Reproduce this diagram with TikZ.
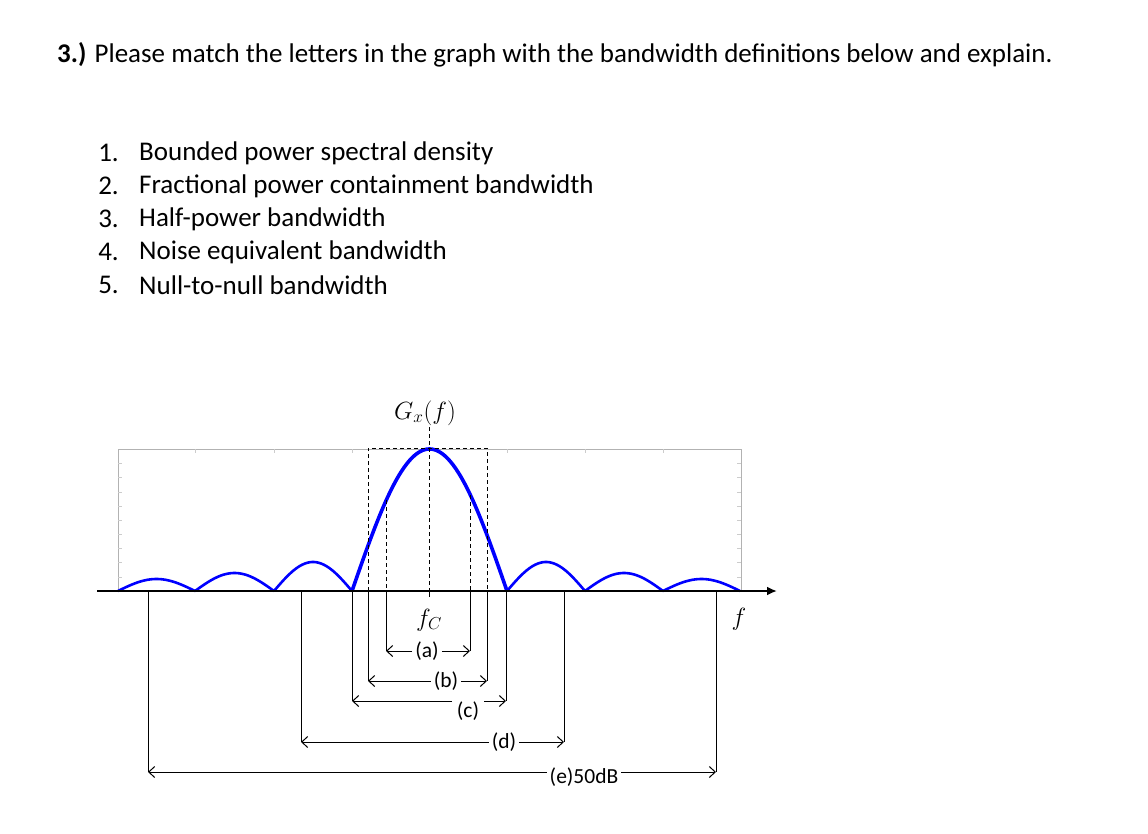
\documentclass[tikz,border=0pt]{standalone}
\usepackage{fontspec}
\setmainfont{Carlito}
\usetikzlibrary{arrows.meta}
\begin{document}
\begin{tikzpicture}[x=1pt,y=-1pt,
  lobe/.style={blue,line width=3.6pt,line join=round},
  dim/.style={black,line width=1pt},
  rarrow/.style={dim,-{Straight Barb[length=6pt,width=11pt]}},
  dsh/.style={black,line width=0.9pt,dash pattern=on 4pt off 3pt},
  lbl/.style={font=\fontsize{21.5}{24}\selectfont,inner sep=3pt},
  txt/.style={font=\fontsize{27}{32}\selectfont,anchor=west,inner sep=0pt}]
\useasboundingbox (0,0) rectangle (1148,834);
\node[txt] (title) at (57,55) {\textbf{3.)} Please match the letters in the graph with the bandwidth definitions below and explain.};
\node[txt,anchor=east] (n1) at (119,153) {1.}; \node[txt] (t1) at (139,153) {Bounded power spectral density};
\node[txt,anchor=east] (n2) at (119,186) {2.}; \node[txt] (t2) at (139,186) {Fractional power containment bandwidth};
\node[txt,anchor=east] (n3) at (119,219) {3.}; \node[txt] (t3) at (139,219) {Half-power bandwidth};
\node[txt,anchor=east] (n4) at (119,252) {4.}; \node[txt] (t4) at (139,252) {Noise equivalent bandwidth};
\node[txt,anchor=east] (n5) at (119,285) {5.}; \node[txt] (t5) at (139,285) {Null-to-null bandwidth};
% frame
\draw[gray!60,line width=0.8pt] (118,591) -- (118,449) -- (741,449) -- (741,591);
\foreach \y in {463,477,492,506,520,534,548,562,577} {
  \draw[gray!40] (118,\y) -- (122,\y); \draw[gray!40] (741,\y) -- (737,\y);}
\foreach \x in {195,274,352,507,585,663} \draw[gray!40] (\x,449) -- (\x,453);
% curve
\draw[lobe] plot[domain=352:507,samples=80] (\x,{591-142*sin((\x-352)/155*180)});
\foreach \a/\b/\h in {274/352/29,195/274/18,118/195/12,507/585/29,585/663/18,663/740/12}
  \draw[blue,line width=2.6pt] plot[domain=\a:\b,samples=40] (\x,{591-\h*sin((\x-\a)/(\b-\a)*180)});
% axis
\coordinate (ax0) at (97,591); \coordinate (ax1) at (777,591);
\draw[line width=2.2pt,-{Latex[length=10pt,width=9pt]}] (ax0) -- (ax1);
\node[font=\fontsize{26}{28}\selectfont] (g) at (425,413) {$G_x(f)$};
\node[font=\fontsize{26}{28}\selectfont] (fc) at (429,620) {$f_C$};
\node[font=\fontsize{26}{28}\selectfont] (ff) at (739,619) {$f$};
% dashed
\draw[dsh] (429,427) -- (429,591);
\draw[dsh] (368,591) -- (368,448) -- (487,448) -- (487,591);
\draw[dsh] (386,500) -- (386,591);
\draw[dsh] (470,495) -- (470,591);
\draw[dim] (429,591) -- (429,597);
% dimension verticals
\draw[dim] (386,591) -- (386,651); \draw[dim] (470,591) -- (470,651);
\draw[dim] (368,591) -- (368,681); \draw[dim] (487,591) -- (487,681);
\draw[dim] (352,591) -- (352,701); \draw[dim] (506,591) -- (506,701);
\draw[dim] (301,591) -- (301,742); \draw[dim] (564,591) -- (564,742);
\draw[dim] (148,591) -- (148,772); \draw[dim] (716,591) -- (716,772);
% labels and arrows
\node[lbl] (la) at (427,651) {(a)};
\draw[rarrow] (la.west) -- (386,651); \draw[rarrow] (la.east) -- (470,651);
\node[lbl] (lb) at (446,681) {(b)};
\draw[rarrow] (lb.west) -- (368,681); \draw[rarrow] (lb.east) -- (487,681);
\node[lbl] (lc) at (468,711) {(c)};
\coordinate (c0) at (352,701); \coordinate (c1) at (452,701);
\coordinate (c2) at (484,701); \coordinate (c3) at (506,701);
\draw[rarrow] (c1) -- (c0); \draw[rarrow] (c2) -- (c3);
\node[lbl] (ld) at (504,742) {(d)};
\draw[rarrow] (ld.west) -- (301,742); \draw[rarrow] (ld.east) -- (564,742);
\node[lbl] (le) at (584,777) {(e)50dB};
\coordinate (e0) at (148,772); \coordinate (e1) at (716,772);
\draw[rarrow] (le.west|-e0) -- (e0); \draw[rarrow] (le.east|-e1) -- (e1);
\end{tikzpicture}
\end{document}
